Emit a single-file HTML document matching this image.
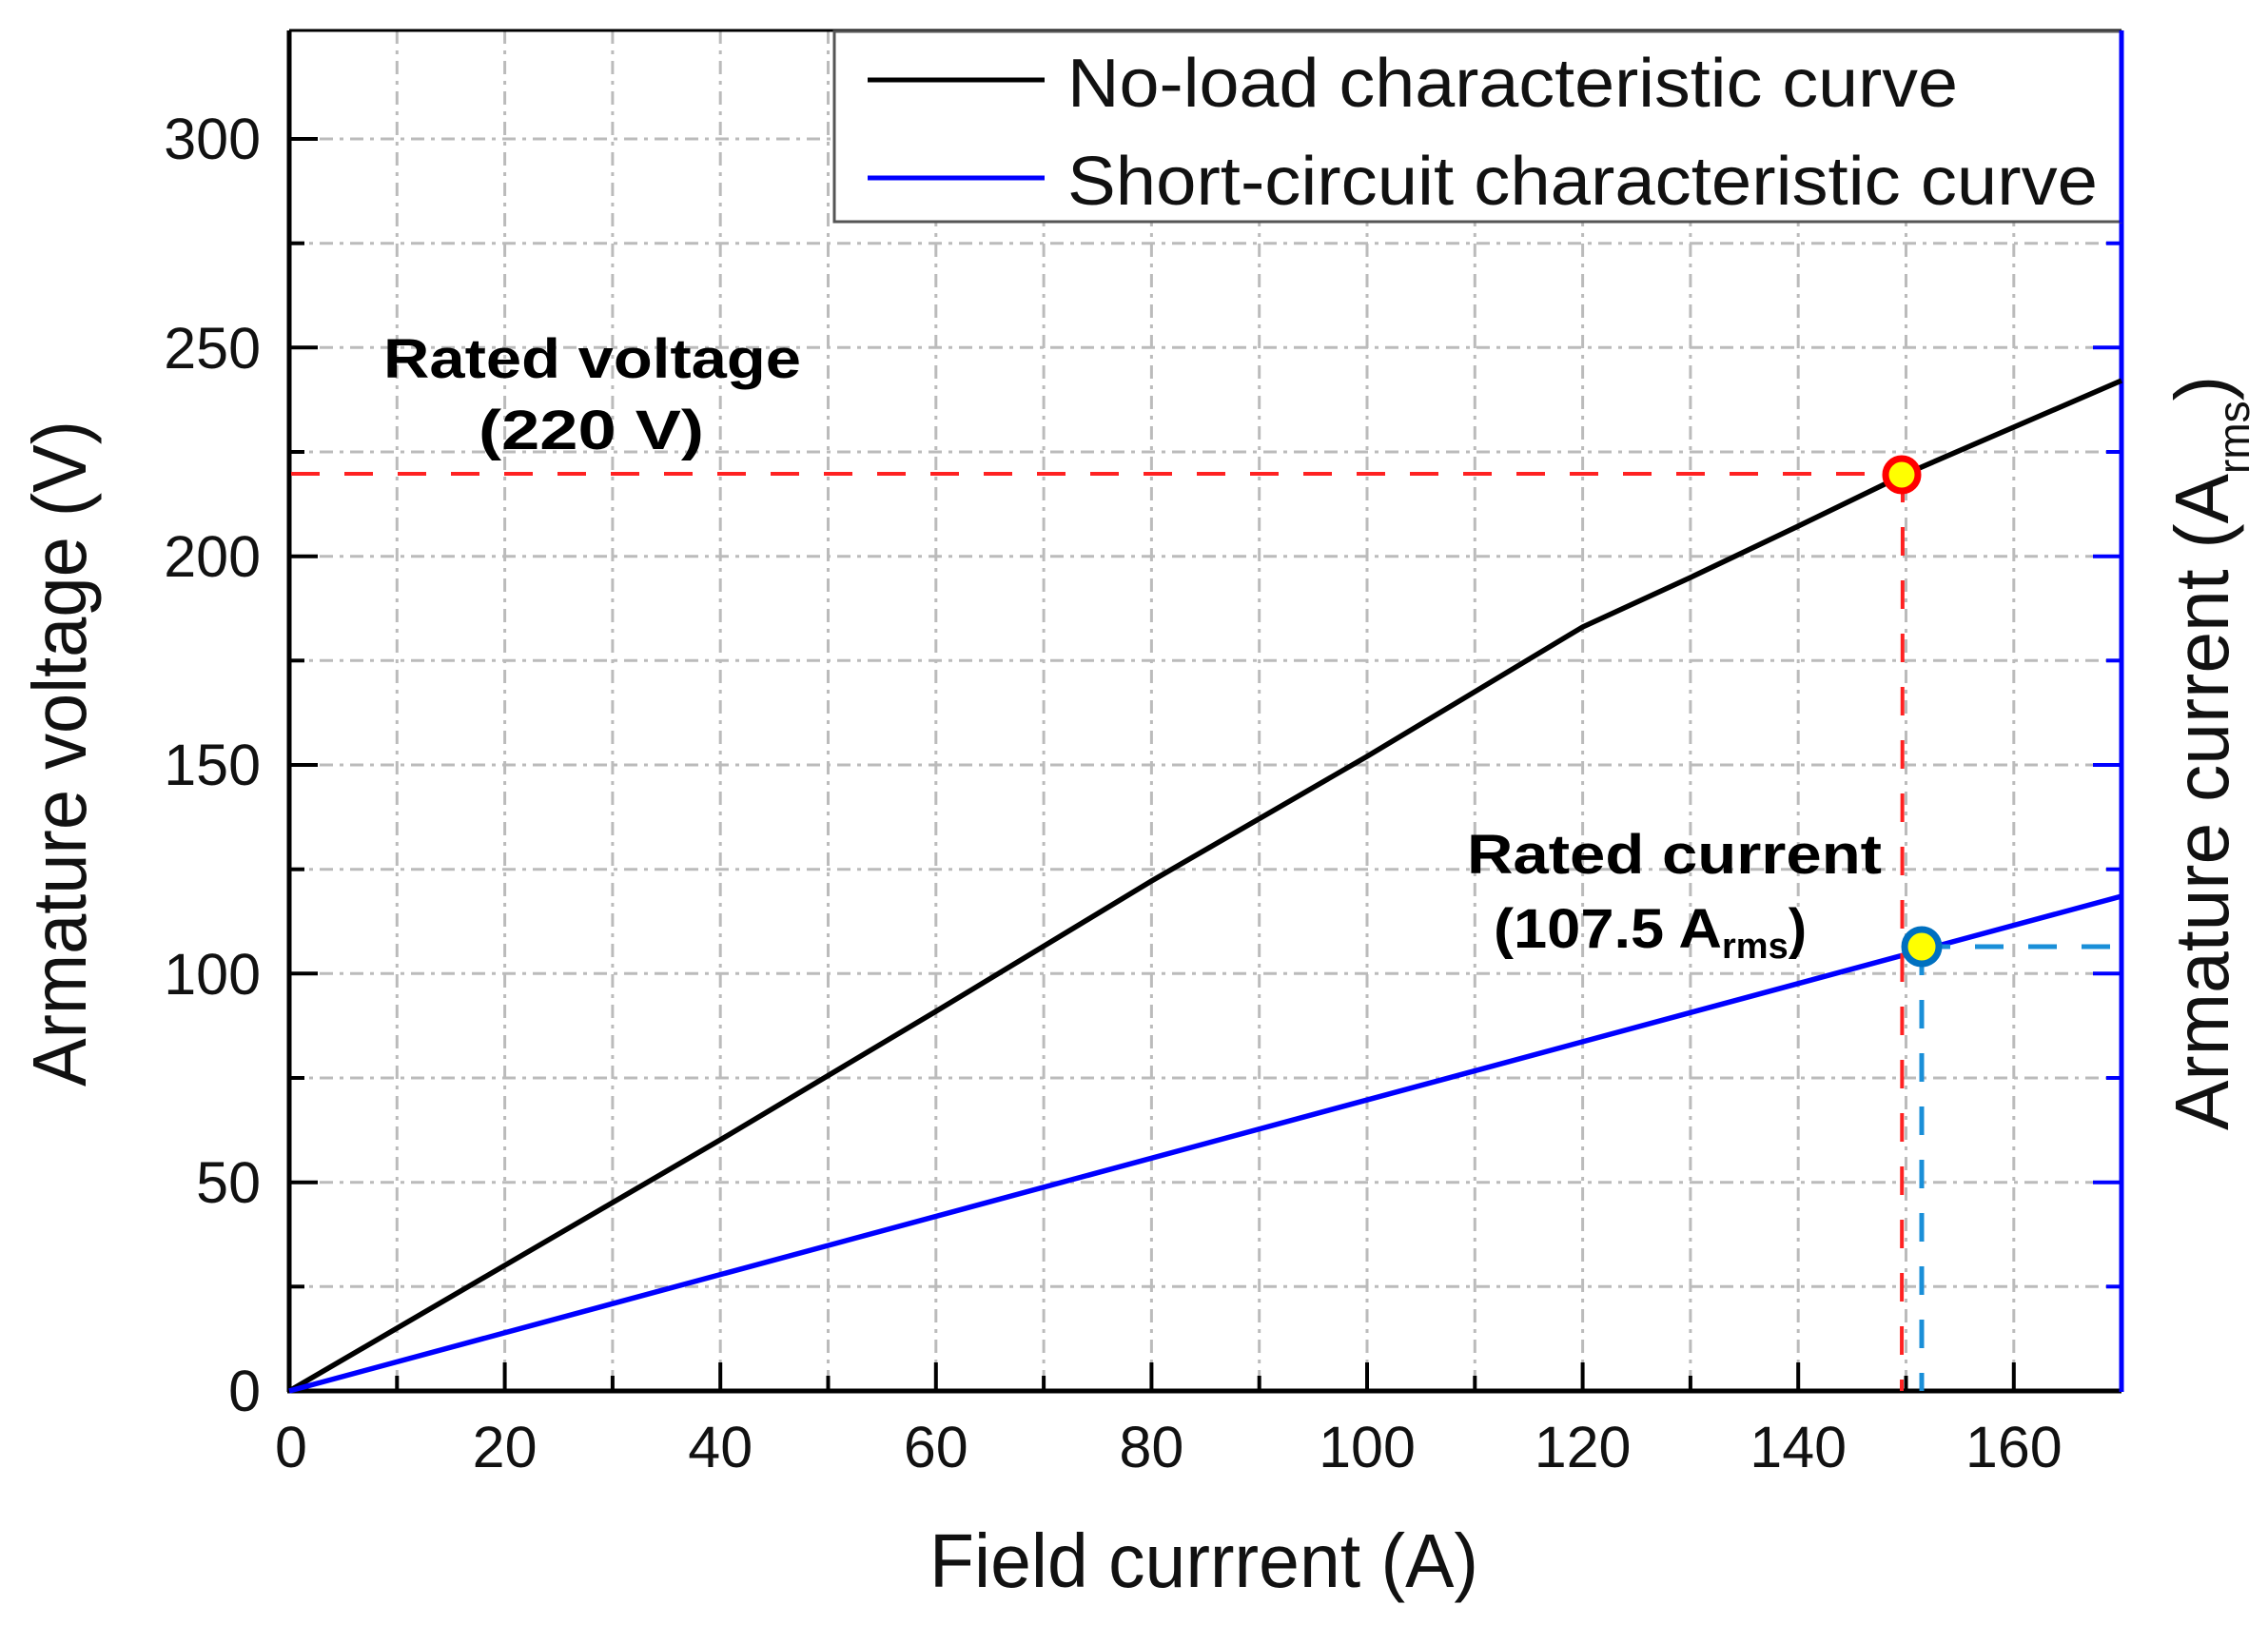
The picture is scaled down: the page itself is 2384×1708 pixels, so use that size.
<!DOCTYPE html>
<html><head><meta charset="utf-8"><style>html,body{margin:0;padding:0;background:#fff}svg{display:block}</style></head>
<body>
<svg width="2384" height="1708" viewBox="0 0 2384 1708" xmlns="http://www.w3.org/2000/svg" font-family="Liberation Sans, DejaVu Sans, sans-serif">
<rect width="2384" height="1708" fill="#fff"/>
<g stroke="#bbb" stroke-width="3" stroke-dasharray="14,7,4,7">
<line x1="417.3" y1="32" x2="417.3" y2="1462"/><line x1="530.6" y1="32" x2="530.6" y2="1462"/>
<line x1="643.9" y1="32" x2="643.9" y2="1462"/><line x1="757.2" y1="32" x2="757.2" y2="1462"/>
<line x1="870.5" y1="32" x2="870.5" y2="1462"/><line x1="983.8" y1="32" x2="983.8" y2="1462"/>
<line x1="1097.1" y1="32" x2="1097.1" y2="1462"/><line x1="1210.4" y1="32" x2="1210.4" y2="1462"/>
<line x1="1323.7" y1="32" x2="1323.7" y2="1462"/><line x1="1437" y1="32" x2="1437" y2="1462"/>
<line x1="1550.3" y1="32" x2="1550.3" y2="1462"/><line x1="1663.6" y1="32" x2="1663.6" y2="1462"/>
<line x1="1776.9" y1="32" x2="1776.9" y2="1462"/><line x1="1890.2" y1="32" x2="1890.2" y2="1462"/>
<line x1="2003.5" y1="32" x2="2003.5" y2="1462"/><line x1="2116.8" y1="32" x2="2116.8" y2="1462"/>
</g>
<g stroke="#bbb" stroke-width="3" stroke-dasharray="14,7,4,7">
<line x1="304" y1="1352.3" x2="2230" y2="1352.3"/><line x1="304" y1="1242.7" x2="2230" y2="1242.7"/>
<line x1="304" y1="1133" x2="2230" y2="1133"/><line x1="304" y1="1023.3" x2="2230" y2="1023.3"/>
<line x1="304" y1="913.7" x2="2230" y2="913.7"/><line x1="304" y1="804" x2="2230" y2="804"/>
<line x1="304" y1="694.3" x2="2230" y2="694.3"/><line x1="304" y1="584.7" x2="2230" y2="584.7"/>
<line x1="304" y1="475" x2="2230" y2="475"/><line x1="304" y1="365.3" x2="2230" y2="365.3"/>
<line x1="304" y1="255.7" x2="2230" y2="255.7"/><line x1="304" y1="146" x2="2230" y2="146"/>
</g>
<line x1="304" y1="32" x2="304" y2="1463" stroke="#000" stroke-width="5"/>
<line x1="302" y1="1462" x2="2230" y2="1462" stroke="#000" stroke-width="5"/>
<line x1="2230" y1="32" x2="2230" y2="1463" stroke="#00f" stroke-width="5"/>
<line x1="304" y1="32" x2="2230" y2="32" stroke="#000" stroke-width="3"/>
<g stroke="#000" stroke-width="4">
<line x1="304" y1="1352.3" x2="320" y2="1352.3"/><line x1="304" y1="1242.7" x2="334" y2="1242.7"/>
<line x1="304" y1="1133" x2="320" y2="1133"/><line x1="304" y1="1023.3" x2="334" y2="1023.3"/>
<line x1="304" y1="913.7" x2="320" y2="913.7"/><line x1="304" y1="804" x2="334" y2="804"/>
<line x1="304" y1="694.3" x2="320" y2="694.3"/><line x1="304" y1="584.7" x2="334" y2="584.7"/>
<line x1="304" y1="475" x2="320" y2="475"/><line x1="304" y1="365.3" x2="334" y2="365.3"/>
<line x1="304" y1="255.7" x2="320" y2="255.7"/><line x1="304" y1="146" x2="334" y2="146"/>
</g>
<g stroke="#000" stroke-width="4">
<line x1="417.3" y1="1462" x2="417.3" y2="1446"/><line x1="530.6" y1="1462" x2="530.6" y2="1432"/>
<line x1="643.9" y1="1462" x2="643.9" y2="1446"/><line x1="757.2" y1="1462" x2="757.2" y2="1432"/>
<line x1="870.5" y1="1462" x2="870.5" y2="1446"/><line x1="983.8" y1="1462" x2="983.8" y2="1432"/>
<line x1="1097.1" y1="1462" x2="1097.1" y2="1446"/><line x1="1210.4" y1="1462" x2="1210.4" y2="1432"/>
<line x1="1323.7" y1="1462" x2="1323.7" y2="1446"/><line x1="1437" y1="1462" x2="1437" y2="1432"/>
<line x1="1550.3" y1="1462" x2="1550.3" y2="1446"/><line x1="1663.6" y1="1462" x2="1663.6" y2="1432"/>
<line x1="1776.9" y1="1462" x2="1776.9" y2="1446"/><line x1="1890.2" y1="1462" x2="1890.2" y2="1432"/>
<line x1="2003.5" y1="1462" x2="2003.5" y2="1446"/><line x1="2116.8" y1="1462" x2="2116.8" y2="1432"/>
</g>
<g stroke="#00f" stroke-width="4">
<line x1="2230" y1="1352.3" x2="2214" y2="1352.3"/><line x1="2230" y1="1242.7" x2="2200" y2="1242.7"/>
<line x1="2230" y1="1133" x2="2214" y2="1133"/><line x1="2230" y1="1023.3" x2="2200" y2="1023.3"/>
<line x1="2230" y1="913.7" x2="2214" y2="913.7"/><line x1="2230" y1="804" x2="2200" y2="804"/>
<line x1="2230" y1="694.3" x2="2214" y2="694.3"/><line x1="2230" y1="584.7" x2="2200" y2="584.7"/>
<line x1="2230" y1="475" x2="2214" y2="475"/><line x1="2230" y1="365.3" x2="2200" y2="365.3"/>
<line x1="2230" y1="255.7" x2="2214" y2="255.7"/>
</g>
<g font-size="61" fill="#111" text-anchor="end">
<text x="274" y="1483">0</text><text x="274" y="1264">50</text><text x="274" y="1045">100</text>
<text x="274" y="825">150</text><text x="274" y="606">200</text><text x="274" y="387">250</text><text x="274" y="167">300</text>
</g>
<g font-size="61" fill="#111" text-anchor="middle">
<text x="306" y="1542">0</text><text x="530.6" y="1542">20</text><text x="757.2" y="1542">40</text>
<text x="983.8" y="1542">60</text><text x="1210.4" y="1542">80</text><text x="1437" y="1542">100</text>
<text x="1663.6" y="1542">120</text><text x="1890.2" y="1542">140</text><text x="2116.8" y="1542">160</text>
</g>
<text x="977" y="1668" font-size="80" fill="#111" textLength="577" lengthAdjust="spacingAndGlyphs">Field currrent (A)</text>
<text transform="translate(90,1142) rotate(-90)" font-size="80" fill="#111" textLength="700" lengthAdjust="spacingAndGlyphs">Armature voltage (V)</text>
<text transform="translate(2342,1188) rotate(-90)" font-size="80" fill="#111"><tspan textLength="690" lengthAdjust="spacingAndGlyphs">Armature current (A</tspan><tspan font-size="46" dy="22">rms</tspan><tspan dy="-22">)</tspan></text>
<polyline fill="none" stroke="#000" stroke-width="5.5" points="304,1462 530.6,1330 757.2,1198 983.8,1063 1210.4,926 1437,795 1663.6,659 1776.9,607 1890.2,553 2003.5,498 2230,400"/>
<line x1="304" y1="1462" x2="2230" y2="942" stroke="#00f" stroke-width="5.5"/>
<g stroke="#f22" stroke-width="4" stroke-dasharray="30,26">
<line x1="306" y1="498" x2="2000" y2="498"/>
<line x1="2000" y1="498" x2="1999" y2="1462"/>
</g>
<g stroke="#1a8fd8" stroke-width="5" stroke-dasharray="30,26">
<line x1="2020" y1="995" x2="2230" y2="995"/>
<line x1="2020" y1="995" x2="2020" y2="1462"/>
</g>
<circle cx="1999" cy="499" r="17" fill="#ff0" stroke="#f00" stroke-width="7"/>
<circle cx="2020" cy="995" r="18" fill="#ff0" stroke="#0070c0" stroke-width="7"/>
<g font-weight="bold" font-size="58" fill="#000">
<text x="403" y="397" textLength="439" lengthAdjust="spacingAndGlyphs">Rated voltage</text>
<text x="503" y="472" textLength="237" lengthAdjust="spacingAndGlyphs">(220 V)</text>
<text x="1542" y="918" textLength="436" lengthAdjust="spacingAndGlyphs">Rated current</text>
<text x="1570" y="996"><tspan textLength="240" lengthAdjust="spacingAndGlyphs">(107.5 A</tspan><tspan font-size="38" dy="11">rms</tspan><tspan dy="-11">)</tspan></text>
</g>
<rect x="877" y="33" width="1352" height="200" fill="#fff" stroke="#555" stroke-width="3"/>
<line x1="912" y1="84" x2="1098" y2="84" stroke="#000" stroke-width="5"/>
<line x1="912" y1="187" x2="1098" y2="187" stroke="#00f" stroke-width="5"/>
<text x="1122" y="112" font-size="72" fill="#111" textLength="936" lengthAdjust="spacingAndGlyphs">No-load characteristic curve</text>
<text x="1122" y="215" font-size="72" fill="#111" textLength="1083" lengthAdjust="spacingAndGlyphs">Short-circuit characteristic curve</text>
<line x1="2230" y1="32" x2="2230" y2="234" stroke="#00f" stroke-width="5"/>
</svg>
</body></html>
